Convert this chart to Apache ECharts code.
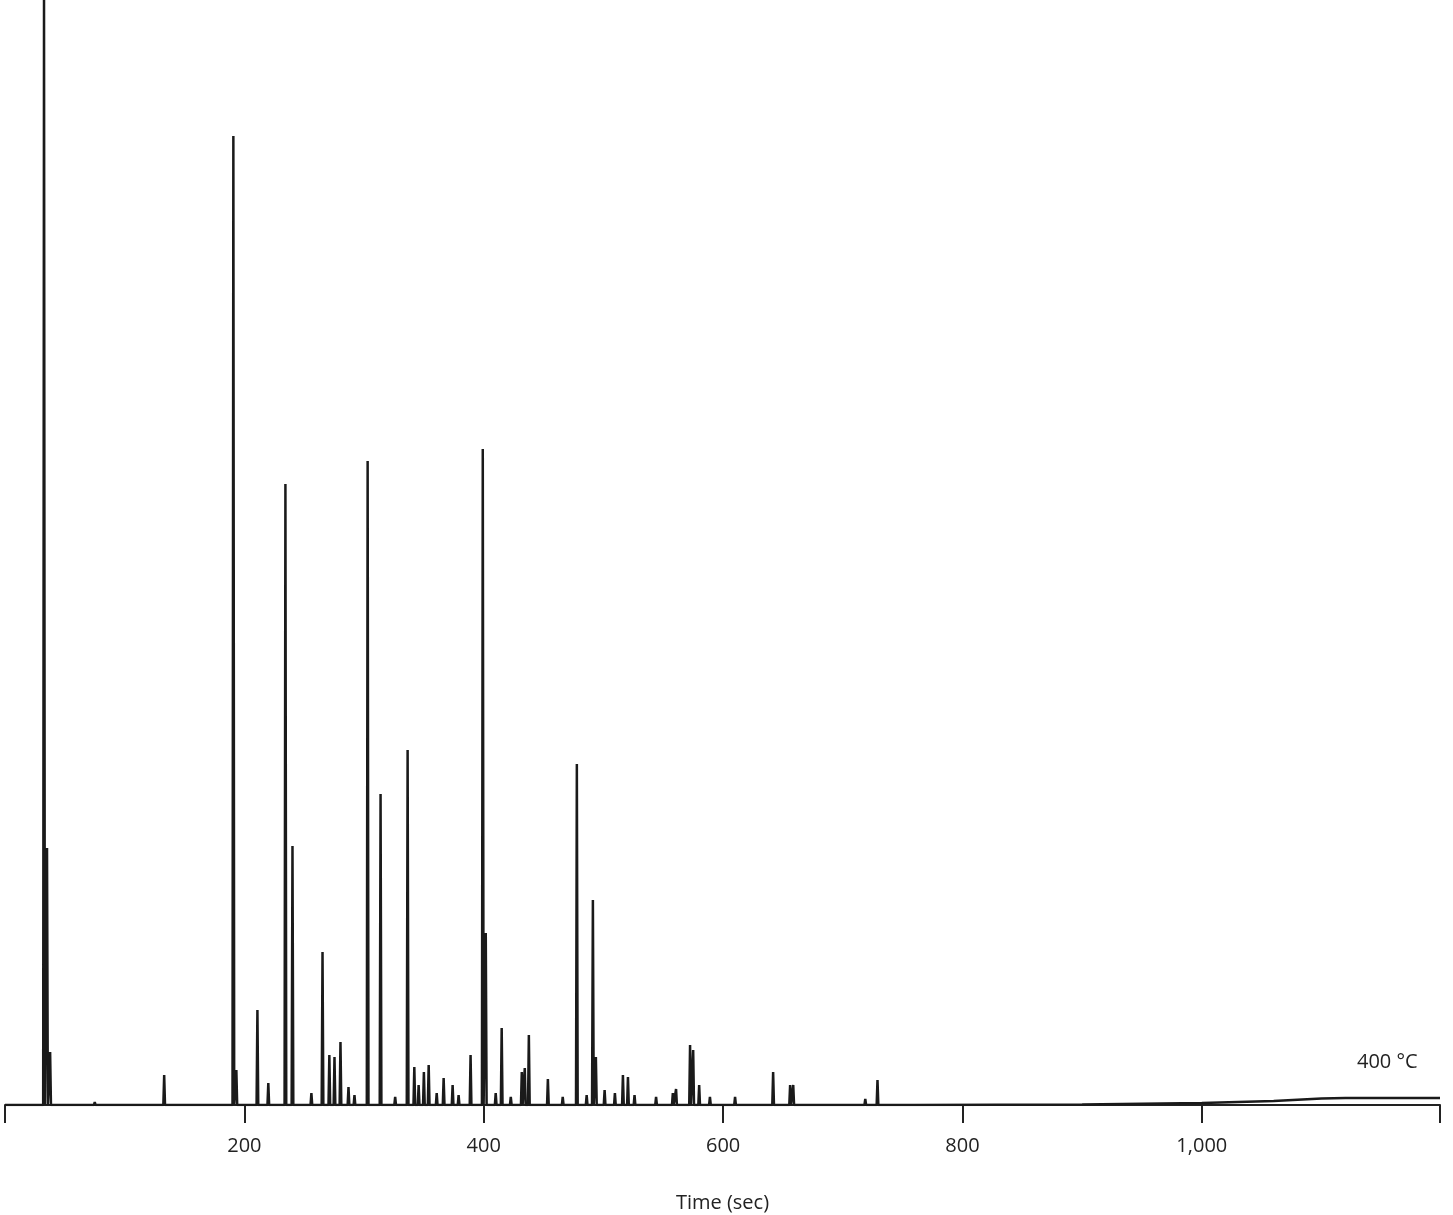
<!DOCTYPE html>
<html>
<head>
<meta charset="utf-8">
<script src="https://cdn.jsdelivr.net/npm/echarts@6/dist/echarts.min.js"></script>
<style>html,body{margin:0;padding:0;background:#fff}#chart{width:1453px;height:1215px}</style>
</head>
<body>
<div id="chart"></div>
<script>
// peak retention times (sec) and heights (signal units)
var peakTimes = [32.6, 35.1, 37.7, 75, 133, 190.8, 193.3, 210.9, 220, 234.3, 240.2, 256, 265.3, 271, 275.3, 280.3, 287, 292,
    303, 313.8, 326, 336.4, 342, 345.6, 350, 354, 360.7, 366.5, 374, 379, 389, 399.2, 401.7, 410, 415, 422.6, 431.8, 434.3,
    437.7, 453.6, 466, 477.8, 486, 491.2, 493.7, 501, 509.6, 516.3, 520.5, 526, 544, 558, 560.7, 572.4, 575, 580, 589, 610,
    641.8, 656, 658.6, 718.8, 729];
var peakHeights = [1105, 257, 53, 3, 30, 969, 35, 95, 22, 621, 259, 12, 153, 50, 48, 63, 18, 10,
    644, 311, 8, 355, 38, 20, 33, 40, 12, 27, 20, 10, 50, 656, 172, 12, 77, 8, 33, 37,
    70, 26, 8, 341, 10, 205, 48, 15, 12, 30, 28, 10, 8, 12, 16, 60, 55, 20, 8, 8,
    33, 20, 20, 6, 25];
// baseline drift at the end of the run
var driftTimes = [760, 900, 1000, 1060, 1100, 1120, 1199];
var driftHeights = [0, 0.5, 2, 4, 6.5, 7, 7];
var xTicks = [200, 400, 600, 800, 1000];

var data = [[0, 0]];
var halfWidth = 0.7;
peakTimes.forEach(function (t, i) {
    data.push([t - halfWidth, 0]);
    data.push([t, peakHeights[i]]);
    data.push([t + halfWidth, 0]);
});
driftTimes.forEach(function (t, i) {
    data.push([t, driftHeights[i]]);
});

var myEcharts = echarts.init(document.getElementById('chart'));
myEcharts.setOption({
    animation: false,
    grid: {left: 5, right: 13, top: 0, bottom: 110, outerBoundsMode: 'none', containLabel: false},
    xAxis: {
        type: 'value', min: 0, max: 1199, interval: 200,
        name: 'Time (sec)', nameLocation: 'middle', nameGap: 88,
        nameTextStyle: {fontFamily: 'Open Sans', fontSize: 20, color: '#222'},
        axisLine: {lineStyle: {color: '#222', width: 2}},
        axisTick: {length: 18, lineStyle: {color: '#222', width: 2}},
        axisLabel: {
            margin: 31, fontFamily: 'Open Sans', fontSize: 20, color: '#222',
            formatter: function (v) { return xTicks.indexOf(v) >= 0 ? v.toLocaleString('en-US') : ''; }
        },
        splitLine: {show: false}
    },
    yAxis: {type: 'value', min: 0, max: 1105, show: false, splitLine: {show: false}},
    series: [{
        type: 'line', data: data, showSymbol: false, clip: true,
        lineStyle: {color: '#1a1a1a', width: 2.5}
    }],
    graphic: [{
        type: 'text', left: 1357, top: 1052,
        style: {text: '400 °C', fontFamily: 'Open Sans', fontSize: 20, fill: '#222'}
    }]
});
</script>
</body>
</html>
